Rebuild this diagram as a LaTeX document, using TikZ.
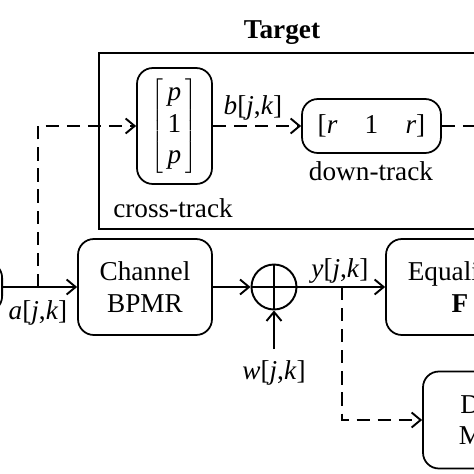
\documentclass[tikz,border=0pt]{standalone}
\usepackage{fontspec}
\setmainfont{Liberation Serif}
\usetikzlibrary{arrows.meta, positioning, calc}
\tikzset{
  blk/.style={
    rectangle,
    rounded corners=9pt,
    draw,
    line width=1pt,
    align=center,
    inner sep=2pt
  },
  lbl/.style={inner sep=1pt},
  sig/.style={-{Straight Barb[length=1.8mm, width=3mm]}, line width=1.1pt},
  dsig/.style={-{Straight Barb[length=1.8mm, width=3mm]}, line width=1.1pt, dash pattern=on 7.5pt off 4.5pt}
}
\begin{document}
\begin{tikzpicture}[x=0.02cm, y=-0.02cm, font=\fontsize{15.5}{18}\selectfont]
  \useasboundingbox (0,0) rectangle (474,474);
  \clip (0,0) rectangle (474,474);

  % target part
  \node[draw, line width=1pt, minimum width=9.4cm, minimum height=3.52cm, anchor=north west] (tgt) at (98,52) {};
  \node[font=\fontsize{15.5}{18}\selectfont\bfseries] (title) at (282,33) {Target};
  \node[blk, minimum width=1.5cm, minimum height=2.32cm] (cross) at (174.5,126)
    {$\left[\begin{array}{@{\,}c@{\,}}\textit{p}\\ \textup{1}\\ \textit{p}\end{array}\right]$};
  \node[lbl] (crosslbl) at (173,208) {cross-track};
  \node[blk, minimum width=2.78cm, minimum height=1.08cm] (down) at (371.5,126)
    {[\textit{r}\quad 1\quad \textit{r}]};
  \node[lbl] (downlbl) at (371,171) {down-track};

  % channel part
  \node[blk, minimum width=1.9cm, minimum height=1cm, anchor=east] (src) at (3,287) {};
  \node[blk, minimum width=2.68cm, minimum height=1.92cm] (chan) at (145,287) {Channel\\BPMR};
  \node[circle, draw, line width=1.1pt, minimum size=0.9cm, inner sep=0pt] (sum) at (274,287) {};
  \draw[line width=1.1pt] (sum.north) -- (sum.south) (sum.west) -- (sum.east);
  \node[blk, minimum width=2.96cm, minimum height=1.92cm] (eq) at (460,287) {Equalizer\\\textbf{F}};
  \node[blk, minimum width=3.04cm, minimum height=1.94cm] (des) at (499,420) {Design\\MMSE};

  \coordinate (ja) at (38,287);
  \coordinate (jy) at (342,287);
  \coordinate (noise) at (274,349);
  \coordinate (out) at (530,126);

  \node[lbl] (alab) at (38,313) {\textit{a}[\textit{j},\textit{k}]};
  \node[lbl] (blab) at (253,108) {\textit{b}[\textit{j},\textit{k}]};
  \node[lbl] (ylab) at (340,271) {\textit{y}[\textit{j},\textit{k}]};
  \node[lbl] (wlab) at (274,373) {\textit{w}[\textit{j},\textit{k}]};

  \draw[sig] (src.east) -- (chan.west);
  \draw[sig] (chan.east) -- (sum.west);
  \draw[sig] (noise) -- (sum.south);
  \draw[sig] (sum.east) -- (eq.west);
  \draw[dsig] (ja) |- (cross.west);
  \draw[dsig] (cross.east) -- (down.west);
  \draw[dsig, -] (down.east) -- (out);
  \draw[dsig] (jy) |- (des.west);
\end{tikzpicture}
\end{document}
